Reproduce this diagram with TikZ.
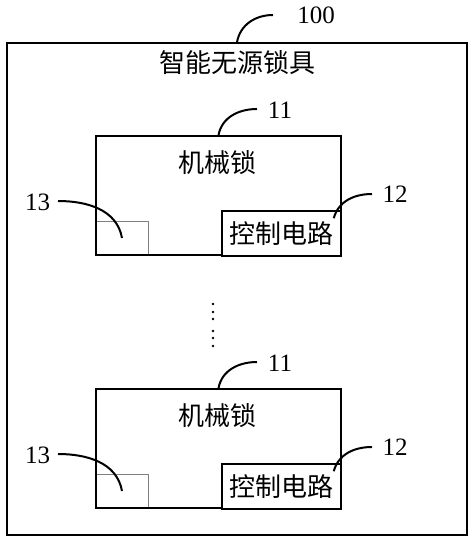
\documentclass[tikz,border=0pt]{standalone}
\usepackage{fontspec}
\setmainfont{Liberation Serif}
\newfontfamily\cjk{Noto Sans CJK SC}
\begin{document}
\begin{tikzpicture}[x=1pt,y=1pt,
  box/.style={draw,line width=1.5pt,inner sep=0pt},
  lead/.style={line width=2pt},
  num/.style={font=\fontsize{25}{25}\selectfont},
  zh/.style={font=\cjk\fontsize{26}{26}\selectfont}]
\useasboundingbox (0,0) rectangle (474,544);
\node[box,minimum width=460,minimum height=492] (lockset) at (237,255) {};
\node[zh] (title) at (237,481) {智能无源锁具};
\node[num] (n100) at (316,529) {100};
\coordinate (c100) at (273,529);
\draw[lead] (lockset.north) to[out=80,in=180] (c100);

\foreach \i/\dy in {1/0,2/253} {
  \node[draw=gray,line width=0.8pt,minimum width=52,minimum height=34,inner sep=0pt] (part\i) at (122,306-\dy) {};
  \node[box,minimum width=245,minimum height=119] (mech\i) at (218.5,348.5-\dy) {};
  \node[zh] (mtext\i) at (217,381-\dy) {机械锁};
  \node[box,fill=white,minimum width=119,minimum height=45,zh] (ctrl\i) at (281.5,310.5-\dy) {控制电路};
  \node[num] (n11\i) at (280,434-\dy) {11};
  \node[num] (n12\i) at (395,349.5-\dy) {12};
  \node[num] (n13\i) at (37.5,341.5-\dy) {13};
  \coordinate (c11\i) at (257,435-\dy);
  \coordinate (c12\i) at (372,350-\dy);
  \coordinate (c13\i) at (58,343-\dy);
  \draw[lead] (mech\i.north) to[out=80,in=180] (c11\i);
  \draw[lead] ([shift={(-8,-8)}]ctrl\i.north east) to[out=75,in=180] (c12\i);
  \draw[lead] (c13\i) to[out=0,in=100] (part\i.center);
}
% dots between the two locks
\foreach \y in {240,232,225,213,206,198}
  \fill (213,\y) circle (1.3);
\end{tikzpicture}
\end{document}
